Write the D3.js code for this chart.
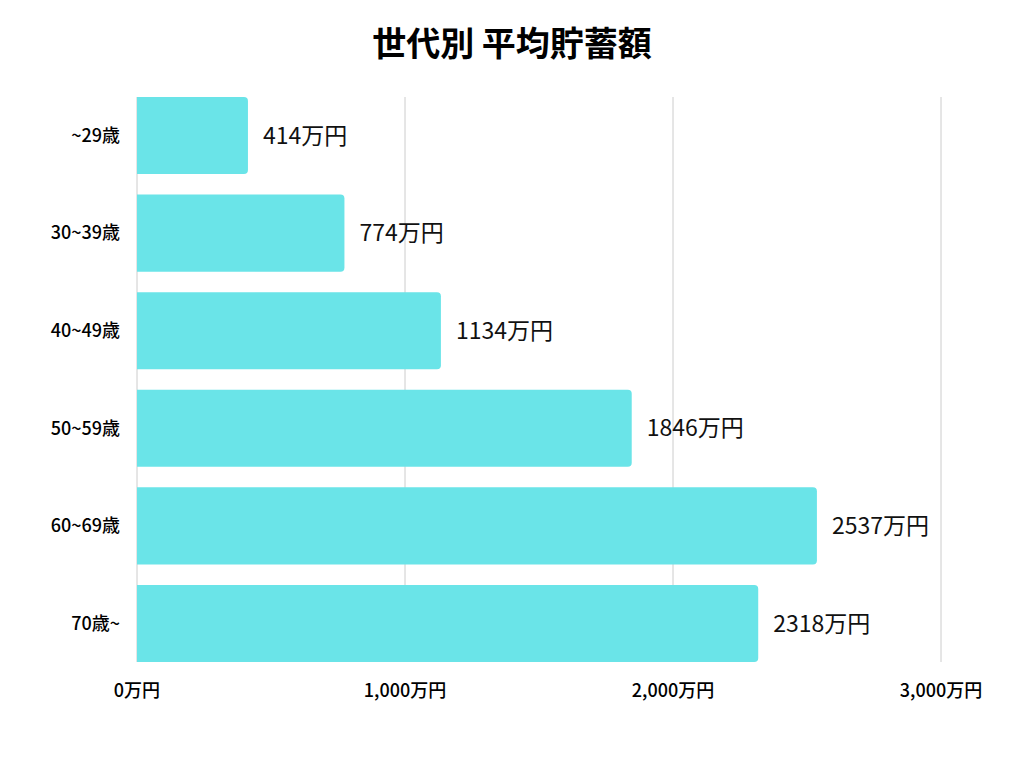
<!DOCTYPE html>
<html><head><meta charset="utf-8">
<script src="https://cdn.jsdelivr.net/npm/d3@7"></script>
<style>body{margin:0;background:#fff;font-family:"Noto Sans CJK JP",sans-serif;}</style>
</head><body>
<script>
const ageGroups = ["~29歳", "30~39歳", "40~49歳", "50~59歳", "60~69歳", "70歳~"];
const savings = [414, 774, 1134, 1846, 2537, 2318];
const xTicks = [0, 1000, 2000, 3000];

const width = 1024, height = 768;
const margin = {left: 137, right: 83, top: 97, bottom: 106};

const svg = d3.select("body").append("svg").attr("width", width).attr("height", height);

svg.append("text").attr("x", width / 2).attr("y", 56).attr("text-anchor", "middle")
    .attr("font-size", 34).attr("font-weight", "bold").text("世代別 平均貯蓄額");

const x = d3.scaleLinear().domain([0, 3000]).range([margin.left, width - margin.right]);
const y = d3.scaleBand().domain(ageGroups).range([margin.top, height - margin.bottom]).paddingInner(0.21).paddingOuter(0);

// grid
svg.selectAll(".grid").data(xTicks).enter().append("line")
    .attr("x1", d => x(d)).attr("x2", d => x(d))
    .attr("y1", margin.top).attr("y2", height - margin.bottom)
    .attr("stroke", "#cccccc").attr("stroke-width", 1);

// bars with rounded right end
const r = 4;
svg.selectAll(".bar").data(savings).enter().append("path")
    .attr("fill", "#6ae4e8")
    .attr("d", (d, i) => {
        const x0 = x(0), x1 = x(d), y0 = y(ageGroups[i]), h = y.bandwidth();
        return `M${x0},${y0}H${x1 - r}Q${x1},${y0} ${x1},${y0 + r}V${y0 + h - r}Q${x1},${y0 + h} ${x1 - r},${y0 + h}H${x0}Z`;
    });

svg.selectAll(".val").data(savings).enter().append("text")
    .attr("x", d => x(d) + 15)
    .attr("y", (d, i) => y(ageGroups[i]) + y.bandwidth() / 2)
    .attr("dy", "0.35em").attr("font-size", 23).attr("fill", "#111")
    .text(d => d + "万円");

svg.selectAll(".ylab").data(ageGroups).enter().append("text")
    .attr("x", 120).attr("y", d => y(d) + y.bandwidth() / 2)
    .attr("dy", "0.35em").attr("text-anchor", "end").attr("font-size", 18).attr("font-weight", 500)
    .text(d => d);

svg.selectAll(".xlab").data(xTicks).enter().append("text")
    .attr("x", d => x(d)).attr("y", 697).attr("text-anchor", "middle")
    .attr("font-size", 18).attr("font-weight", 500)
    .text(d => d3.format(",")(d) + "万円");
</script>
</body></html>
